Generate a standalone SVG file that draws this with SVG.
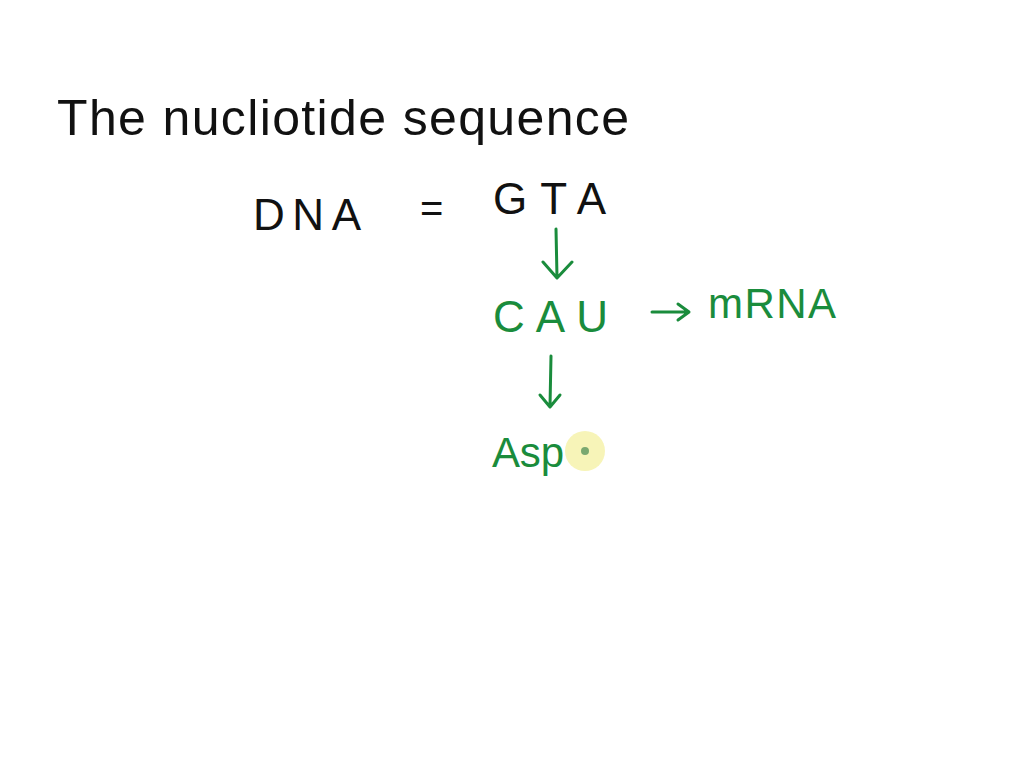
<svg xmlns="http://www.w3.org/2000/svg" width="1024" height="768" viewBox="0 0 1024 768">
<style>
.k{font-family:"Liberation Sans",Arial,sans-serif;fill:#111}
.g{font-family:"Liberation Sans",Arial,sans-serif;fill:#1a8c3c}
.c{stroke:#1a8c3c;stroke-width:3;fill:none;stroke-linecap:round;stroke-linejoin:round}
</style>
<rect width="1024" height="768" fill="#ffffff"/>
<g id="title"><text class="k" x="57" y="135" font-size="50" textLength="572" lengthAdjust="spacing">The nucliotide sequence</text></g>
<g id="dna"><text class="k" x="253" y="230" font-size="44" textLength="108" lengthAdjust="spacing">DNA</text></g>
<g id="equals"><text class="k" x="420" y="222" font-size="40">=</text></g>
<g id="gta"><text class="k" x="493" y="214" font-size="44" textLength="113" lengthAdjust="spacing">GTA</text></g>
<g id="cau"><text class="g" x="493" y="332" font-size="44" textLength="115" lengthAdjust="spacing">CAU</text></g>
<g id="mrna"><text class="g" x="708" y="318" font-size="42" textLength="128" lengthAdjust="spacing">mRNA</text></g>
<g id="asp"><text class="g" x="492" y="467" font-size="42" textLength="72" lengthAdjust="spacing">Asp</text></g>
<g id="pointer">
<circle cx="585" cy="451" r="20" fill="#f4f0a0" opacity="0.75"/>
<circle cx="585" cy="451" r="4" fill="#7aa870"/>
</g>
<g id="connectors">
<path class="c" d="M556 229 L557 277 M543 262 L557 278 L572 262"/>
<path class="c" d="M652 312 L688 312 M678 304 L689 312 L678 320"/>
<path class="c" d="M551 356 L550 406 M540 395 L550 407 L560 395"/>
</g>
</svg>
